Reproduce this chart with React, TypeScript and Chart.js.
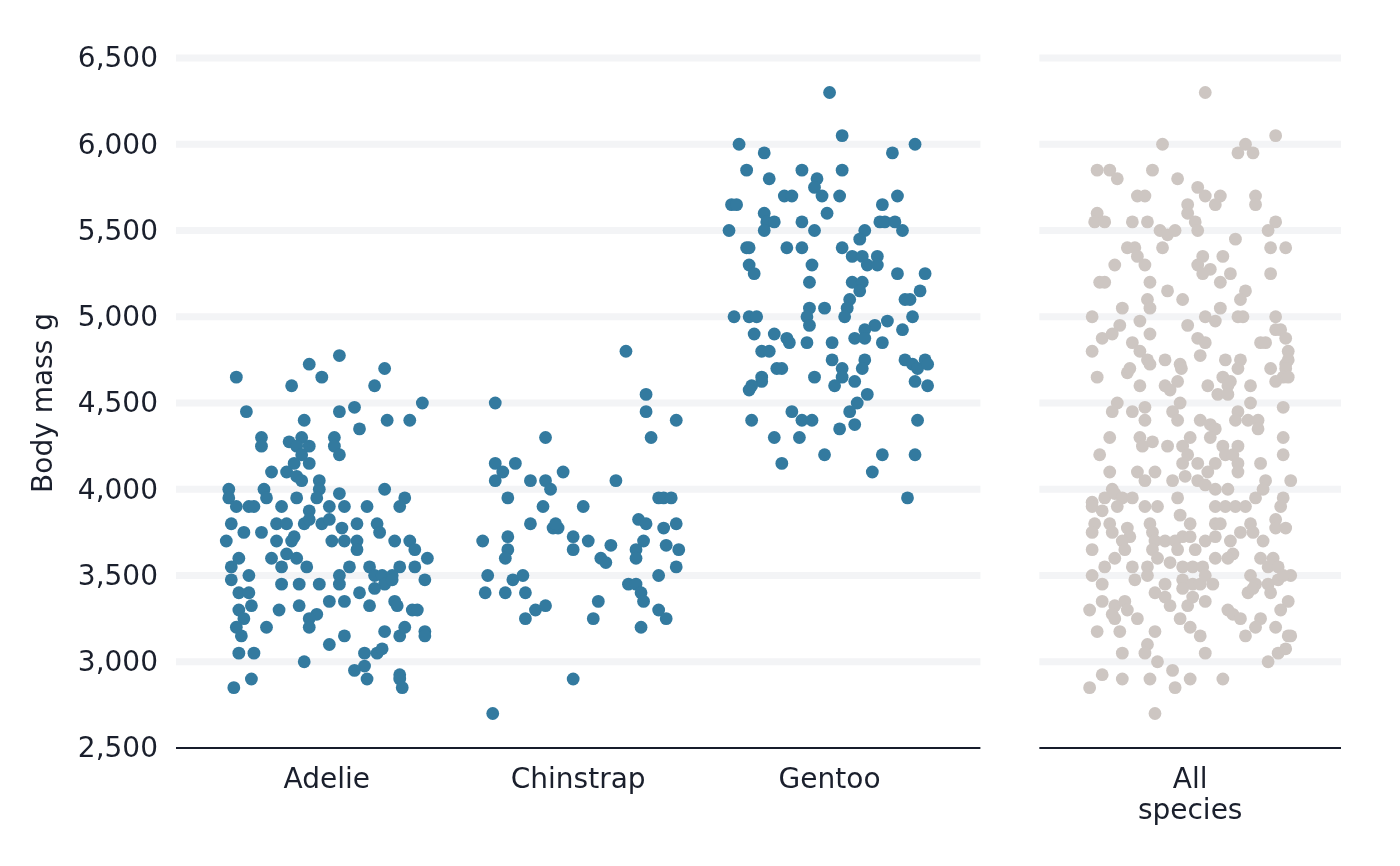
import React, { useEffect, useRef } from 'react';
import { Chart, registerables } from 'chart.js';

Chart.register(...registerables);

// ---------- data ----------
const categories = ['Adelie', 'Chinstrap', 'Gentoo'];
const allLabel = ['All', 'species'];
const yTickValues = [2500, 3000, 3500, 4000, 4500, 5000, 5500, 6000, 6500];
const yTitle = 'Body mass g';

const adelieMass = [
  4650, 4725, 4775, 4600, 4650, 4700, 4600, 4500, 4450, 4400,
  4450, 4475, 4400, 4400, 4350, 4300, 4250, 4275, 4300, 4250,
  4250, 4200, 4150, 4150, 4300, 4250, 4200, 4100, 4100, 4075,
  4050, 4050, 4000, 4000, 3950, 4000, 3950, 3900, 3900, 3900,
  3900, 3950, 3950, 3875, 3900, 3975, 3900, 3900, 4000, 3950,
  3900, 3800, 3750, 3750, 3800, 3800, 3725, 3700, 3800, 3825,
  3800, 3825, 3775, 3800, 3800, 3750, 3700, 3700, 3700, 3700,
  3700, 3650, 3700, 3700, 3650, 3600, 3550, 3600, 3625, 3600,
  3550, 3550, 3550, 3550, 3550, 3550, 3600, 3500, 3475, 3500,
  3450, 3500, 3500, 3500, 3450, 3475, 3425, 3475, 3450, 3450,
  3450, 3400, 3400, 3400, 3325, 3300, 3250, 3200, 3150, 3300,
  3325, 3350, 3350, 3325, 3350, 3325, 3300, 3300, 3275, 3250,
  3200, 3200, 3175, 3150, 3200, 3175, 3150, 3150, 3100, 3050,
  3050, 3000, 3050, 2975, 2950, 3050, 3075, 2900, 2925, 2900,
  2850, 2900, 2850,
];
const adelieJitter = [
  -0.36, -0.07, 0.05, -0.14, -0.02, 0.23, 0.19, 0.38, -0.32, -0.09,
  0.05, 0.11, 0.24, 0.33, 0.13, -0.26, -0.26, -0.15, -0.10, -0.12,
  -0.07, -0.10, -0.13, -0.07, 0.03, 0.03, 0.05, -0.22, -0.16, -0.12,
  -0.10, -0.03, -0.03, -0.39, -0.39, -0.25, -0.24, -0.36, -0.31, -0.29,
  -0.18, -0.12, -0.04, -0.07, 0.01, 0.05, 0.07, 0.16, 0.23, 0.31,
  0.29, -0.38, -0.33, -0.26, -0.20, -0.16, -0.13, -0.14, -0.09, -0.07,
  -0.02, 0.01, 0.06, 0.12, 0.20, 0.21, -0.40, -0.20, 0.02, 0.07,
  0.12, 0.12, 0.27, 0.33, 0.35, -0.35, -0.38, -0.22, -0.16, -0.12,
  -0.18, -0.08, 0.09, 0.17, 0.29, 0.35, 0.40, -0.31, -0.38, 0.05,
  0.05, 0.19, 0.22, 0.26, 0.23, 0.26, 0.19, 0.39, -0.18, -0.11,
  -0.03, 0.13, -0.35, -0.31, -0.30, -0.35, -0.33, -0.36, -0.34, -0.19,
  -0.11, 0.01, 0.07, 0.17, 0.27, 0.28, 0.34, 0.36, -0.04, -0.07,
  -0.07, -0.24, 0.23, 0.29, 0.31, 0.39, 0.39, 0.07, 0.01, -0.35,
  -0.29, -0.09, 0.15, 0.15, 0.11, 0.20, 0.22, 0.16, 0.29, 0.29,
  0.30, -0.30, -0.37,
];

const chinstrapMass = [
  4800, 4550, 4500, 4450, 4400, 4300, 4300, 4150, 4100, 4150,
  4050, 4050, 4050, 4100, 4000, 4050, 3950, 3900, 3900, 3950,
  3950, 3950, 3800, 3775, 3775, 3800, 3825, 3800, 3775, 3800,
  3700, 3725, 3650, 3600, 3500, 3475, 3500, 3400, 3400, 3400,
  3300, 3325, 3250, 3725, 3650, 3700, 3675, 3600, 3575, 3350,
  3250, 3700, 3650, 3600, 3675, 3650, 3550, 3500, 3450, 3450,
  3400, 3350, 3300, 3250, 3200, 2900, 2700,
];
const chinstrapJitter = [
  0.19, 0.27, -0.33, 0.27, 0.39, -0.13, 0.29, -0.33, -0.30, -0.25,
  -0.33, -0.19, -0.13, -0.06, -0.11, 0.15, -0.28, -0.14, 0.02, 0.32,
  0.34, 0.37, -0.19, -0.10, -0.08, -0.09, 0.24, 0.27, 0.34, 0.39,
  -0.38, -0.28, -0.28, -0.29, -0.36, -0.26, -0.22, -0.37, -0.29, -0.21,
  -0.17, -0.13, -0.21, -0.02, -0.02, 0.04, 0.13, 0.09, 0.11, 0.08,
  0.06, 0.26, 0.23, 0.23, 0.35, 0.40, 0.39, 0.32, 0.20, 0.23,
  0.25, 0.26, 0.32, 0.35, 0.25, -0.02, -0.34,
];

const gentooMass = [
  6300, 6050, 6000, 5950, 5950, 6000, 5850, 5800, 5850, 5850,
  5800, 5750, 5700, 5700, 5700, 5700, 5650, 5650, 5600, 5550,
  5550, 5500, 5500, 5550, 5500, 5600, 5650, 5700, 5550, 5550,
  5550, 5500, 5500, 5450, 5400, 5400, 5400, 5400, 5400, 5350,
  5350, 5350, 5300, 5300, 5300, 5250, 5300, 5200, 5250, 5250,
  5200, 5200, 5150, 5150, 5100, 5100, 5100, 5000, 5000, 5000,
  5050, 5000, 4950, 5050, 5050, 5000, 4975, 4950, 4925, 5000,
  4900, 4900, 4875, 4850, 4850, 4850, 4875, 4925, 4875, 4850,
  4800, 4800, 4750, 4750, 4700, 4700, 4650, 4625, 4600, 4700,
  4700, 4650, 4625, 4600, 4575, 4650, 4750, 4725, 4700,
  4750, 4725, 4625, 4600, 4550, 4500, 4450, 4375, 4350, 4450,
  4400, 4400, 4400, 4300, 4300, 4400, 4200, 4200, 4200, 4150,
  4100, 3950,
];
const gentooJitter = [
  0.00, 0.05, -0.36, -0.26, 0.25, 0.34, -0.33, -0.24, -0.11, 0.05,
  -0.05, -0.06, -0.03, -0.18, -0.15, 0.04, -0.39, -0.37, -0.26, -0.25,
  -0.22, -0.26, -0.40, -0.11, -0.06, -0.01, 0.21, 0.27, 0.20, 0.22,
  0.26, 0.29, 0.14, 0.12, -0.33, -0.32, -0.17, -0.11, 0.05, 0.09,
  0.13, 0.19, 0.15, 0.19, -0.32, -0.30, -0.07, -0.08, 0.27, 0.38,
  0.09, 0.13, 0.12, 0.36, 0.08, 0.30, 0.32, -0.38, -0.32, -0.29,
  -0.08, -0.09, -0.08, -0.02, 0.07, 0.06, 0.23, 0.18, 0.29, 0.33,
  -0.30, -0.22, -0.17, -0.16, -0.09, 0.01, 0.10, 0.14, 0.14, 0.21,
  -0.27, -0.24, 0.01, 0.14, 0.05, 0.13, 0.05, 0.10, 0.02, -0.21,
  -0.19, -0.27, -0.27, -0.31, -0.32, -0.06, 0.30, 0.33, 0.35,
  0.38, 0.39, 0.34, 0.39, 0.15, 0.11, 0.08, 0.10, 0.04, -0.15,
  -0.11, -0.07, -0.31, -0.22, -0.12, 0.35, -0.02, 0.21, 0.34, -0.19,
  0.17, 0.31,
];

const allMass = [
  6300, 6050, 6000, 5950, 6000, 5950, 5850, 5850, 5800, 5850,
  5800, 5750, 5700, 5700, 5700, 5700, 5650, 5700, 5650, 5650,
  5600, 5550, 5500, 5600, 5550, 5550, 5550, 5550, 5500, 5475,
  5500, 5550, 5500, 5450, 5400, 5400, 5350, 5300, 5400, 5300,
  5400, 5400, 5350, 5350, 5300, 5275, 5250, 5250, 5250, 5200,
  5200, 5200, 5150, 5200, 5150, 5100, 5100, 5100, 5050, 5050,
  5000, 4975, 4950, 4900, 4875, 4900, 4800, 4850, 4800, 4750,
  4725, 4650, 4675, 4700, 4600, 4750, 4725, 4700, 4625, 4600,
  4575, 4950, 4875, 4850, 4775, 5000, 4975, 5050, 5000, 5000,
  5000, 4925, 4925, 4875, 4850, 4850, 4800, 4750, 4725, 4700,
  4700, 4650, 4625, 4650, 4750, 4750, 4700, 4650, 4625, 4600,
  4600, 4550, 4550, 4600, 4500, 4475, 4500, 4450, 4450, 4475,
  4400, 4450, 4500, 4400, 4300, 4200, 4300, 4250, 4275, 4250,
  4300, 4400, 4375, 4350, 4300, 4250, 4200, 4250, 4200, 4200,
  4250, 4450, 4400, 4400, 4400, 4350, 4300, 4200, 4100, 4100,
  4050, 4100, 4050, 4150, 4075, 4050, 4150, 4100, 4150, 4025,
  4000, 4000, 4150, 4100, 4150, 4050, 4000, 4050, 3950, 3950,
  3950, 4000, 3950, 3925, 3975, 3950, 3950, 3900, 3900, 3900,
  3875, 3900, 3900, 3900, 3900, 3900, 3900, 3800, 3750, 3800,
  3750, 3775, 3725, 3700, 3650, 3800, 3750, 3700, 3650, 3700,
  3700, 3725, 3725, 3650, 3850, 3800, 3650, 3650, 3600, 3550,
  3500, 3450, 3550, 3475, 3550, 3500, 3600, 3575, 3400, 3450,
  3375, 3550, 3550, 3550, 3475, 3450, 3450, 3425, 3375, 3325,
  3500, 3450, 3350, 3325, 3250, 3200, 3150, 3050, 3175, 3100,
  3050, 3000, 2950, 2900, 2850, 2900, 2900, 2925, 2850, 2700,
  2900, 3050, 3175, 3300, 3350, 3325, 3275, 3250, 3175, 3350,
  3300, 3250, 3600, 3700, 3725, 3800, 3800, 3750, 3700, 3625,
  3600, 3800, 3750, 3700, 3825, 3775, 3775, 3600, 3550, 3600,
  3550, 3500, 3450, 3400, 3425, 3450, 3400, 3475, 3500, 3500,
  3350, 3300, 3300, 3275, 3250, 3250, 3200, 3150, 3200, 3150,
  3150, 3050, 3075, 3000,
];
const allJitter = [
  0.06, 0.34, -0.11, 0.19, 0.22, 0.25, -0.37, -0.32, -0.29, -0.15,
  -0.05, 0.03, 0.06, -0.21, -0.18, 0.12, 0.10, 0.26, 0.26, -0.01,
  -0.01, 0.02, 0.03, -0.37, -0.38, -0.34, -0.23, -0.17, -0.12, -0.09,
  -0.06, 0.34, 0.31, 0.18, -0.25, -0.22, -0.21, -0.18, -0.11, -0.30,
  0.32, 0.38, 0.05, 0.13, 0.03, 0.08, 0.05, 0.16, 0.32, -0.36,
  -0.34, -0.16, -0.09, 0.12, 0.22, 0.20, -0.17, -0.03, -0.27, -0.16,
  -0.39, -0.20, -0.28, -0.16, -0.35, -0.31, -0.39, -0.23, -0.20, -0.17,
  -0.16, -0.37, -0.25, -0.24, -0.20, -0.10, -0.04, -0.035, -0.05, -0.10,
  -0.08, -0.01, 0.03, 0.06, 0.04, 0.06, 0.10, 0.12, 0.19, 0.21,
  0.34, 0.34, 0.36, 0.38, 0.28, 0.30, 0.39, 0.39, 0.38, 0.32,
  0.38, 0.37, 0.34, 0.39, 0.14, 0.20, 0.19, 0.13, 0.16, 0.15,
  0.07, 0.11, 0.15, 0.24, 0.24, 0.37, -0.29, -0.31, -0.23, -0.18,
  -0.18, -0.07, -0.04, -0.05, -0.32, -0.36, -0.20, -0.19, -0.15, -0.09,
  0.00, 0.04, 0.08, 0.10, 0.08, -0.03, -0.01, 0.13, 0.14, 0.17,
  0.19, 0.19, 0.18, 0.23, 0.27, 0.27, 0.37, 0.37, -0.32, -0.21,
  -0.18, -0.14, -0.07, -0.03, -0.02, 0.03, 0.03, 0.07, 0.10, 0.06,
  0.10, 0.15, 0.19, 0.19, 0.28, 0.30, 0.29, 0.40, -0.05, 0.26,
  0.37, -0.31, -0.34, -0.39, -0.30, -0.27, -0.23, -0.18, -0.13, -0.39,
  -0.35, -0.29, 0.10, 0.14, 0.18, 0.22, 0.36, -0.38, -0.39, -0.32,
  -0.31, -0.25, -0.24, -0.27, -0.26, -0.16, -0.15, -0.14, -0.15, -0.10,
  -0.06, -0.03, 0.00, 0.02, -0.04, 0.00, -0.05, -0.39, -0.30, -0.34,
  -0.39, -0.35, -0.23, -0.22, -0.17, -0.17, -0.13, -0.08, -0.14, -0.10,
  -0.10, -0.03, 0.01, 0.05, -0.03, 0.01, 0.04, -0.03, 0.01, -0.01,
  0.06, 0.09, 0.06, -0.08, -0.04, 0.00, 0.04, 0.06, -0.14, -0.17,
  -0.18, -0.13, -0.07, 0.00, -0.06, -0.16, -0.27, -0.35, -0.40, -0.14,
  0.13, -0.27, -0.37, -0.40, -0.35, -0.30, -0.31, -0.30, -0.28, -0.26,
  -0.25, -0.21, 0.10, 0.06, 0.10, 0.10, 0.12, 0.20, 0.16, 0.17,
  0.15, 0.24, 0.25, 0.29, 0.34, 0.34, 0.38, 0.28, 0.31, 0.33,
  0.35, 0.24, 0.26, 0.23, 0.25, 0.31, 0.32, 0.35, 0.40, 0.37,
  0.39, 0.36, 0.15, 0.17, 0.20, 0.28, 0.26, 0.22, 0.34, 0.39,
  0.40, 0.35, 0.38, 0.31,
];

// ---------- layout / style ----------
const Y_MIN = 2500;
const Y_MAX = 6500;
const LEFT_MIN = 0.4;
const LEFT_MAX = 3.6;
const PANEL_GAP = 0.2345;
const RIGHT_MIN = LEFT_MAX + PANEL_GAP;
const ALL_POS = RIGHT_MIN + 0.6;
const RIGHT_MAX = RIGHT_MIN + 1.2;

const BLUE = '#337A9F';
const GREY = '#CDC6C2';
const TEXT = '#1a1f2c';
const AXIS = '#161c2b';
const GRID = '#f3f4f6';
const FONT = 'DejaVu Sans';

const xTickValues = [1, 2, 3, ALL_POS];
const xTickLabels: (string | string[])[] = [...categories, allLabel];

const panelPlugin = {
  id: 'panels',
  beforeDatasetsDraw(chart: any) {
    const { ctx, scales } = chart;
    const x = scales.x;
    const y = scales.y;
    const panels = [
      [LEFT_MIN, LEFT_MAX],
      [RIGHT_MIN, RIGHT_MAX],
    ];
    ctx.save();
    for (const [a, b] of panels) {
      const x0 = x.getPixelForValue(a);
      const x1 = x.getPixelForValue(b);
      ctx.fillStyle = GRID;
      for (const t of yTickValues) {
        if (t === Y_MIN) continue;
        const py = y.getPixelForValue(t);
        ctx.fillRect(x0, py - 3.5, x1 - x0, 7);
      }
      const by = y.getPixelForValue(Y_MIN);
      ctx.strokeStyle = AXIS;
      ctx.lineWidth = 1.8;
      ctx.beginPath();
      ctx.moveTo(x0, by);
      ctx.lineTo(x1, by);
      ctx.stroke();
    }
    ctx.restore();
  },
};

export default function App() {
  const ref = useRef<HTMLCanvasElement | null>(null);

  useEffect(() => {
    if (!ref.current) return;
    const speciesPoints: { x: number; y: number }[] = [];
    const groups = [
      [adelieMass, adelieJitter],
      [chinstrapMass, chinstrapJitter],
      [gentooMass, gentooJitter],
    ];
    groups.forEach(([mass, jit], i) => {
      mass.forEach((m, k) => speciesPoints.push({ x: i + 1 + jit[k], y: m }));
    });
    const allPoints = allMass.map((m, k) => ({ x: ALL_POS + allJitter[k], y: m }));

    const chart = new Chart(ref.current, {
      type: 'scatter',
      data: {
        datasets: [
          {
            data: speciesPoints,
            backgroundColor: BLUE,
            borderWidth: 0,
            pointRadius: 6.4,
          },
          {
            data: allPoints,
            backgroundColor: GREY,
            borderWidth: 0,
            pointRadius: 6.4,
          },
        ],
      },
      options: {
        animation: false,
        responsive: false,
        devicePixelRatio: 1,
        layout: { padding: { top: 58, right: 59, bottom: 0, left: 0 } },
        plugins: {
          legend: { display: false },
          tooltip: { enabled: false },
        },
        scales: {
          x: {
            type: 'linear',
            min: LEFT_MIN,
            max: RIGHT_MAX,
            grid: { display: false, drawTicks: false },
            border: { display: false },
            afterBuildTicks: (axis: any) => {
              axis.ticks = xTickValues.map((v) => ({ value: v }));
            },
            afterFit: (axis: any) => {
              axis.height = 118;
            },
            ticks: {
              autoSkip: false,
              maxRotation: 0,
              padding: 17,
              color: TEXT,
              font: { family: FONT, size: 28, lineHeight: 1.12 },
              callback: (_v: any, i: number) => xTickLabels[i],
            },
          },
          y: {
            type: 'linear',
            min: Y_MIN,
            max: Y_MAX,
            grid: { display: false, drawTicks: false },
            border: { display: false },
            afterFit: (axis: any) => {
              axis.width = 176;
            },
            ticks: {
              stepSize: 500,
              padding: 18,
              labelOffset: 2,
              color: TEXT,
              font: { family: FONT, size: 28 },
              callback: (v: any) => Number(v).toLocaleString('en-US'),
            },
            title: {
              display: true,
              text: yTitle,
              color: TEXT,
              font: { family: FONT, size: 28 },
              padding: { top: 28, bottom: 0 },
            },
          },
        },
      },
      plugins: [panelPlugin],
    });
    return () => chart.destroy();
  }, []);

  return (
    <div style={{ position: 'fixed', left: 0, top: 0, width: 1400, height: 866, background: '#ffffff' }}>
      <canvas ref={ref} width={1400} height={866} style={{ display: 'block' }} />
    </div>
  );
}
